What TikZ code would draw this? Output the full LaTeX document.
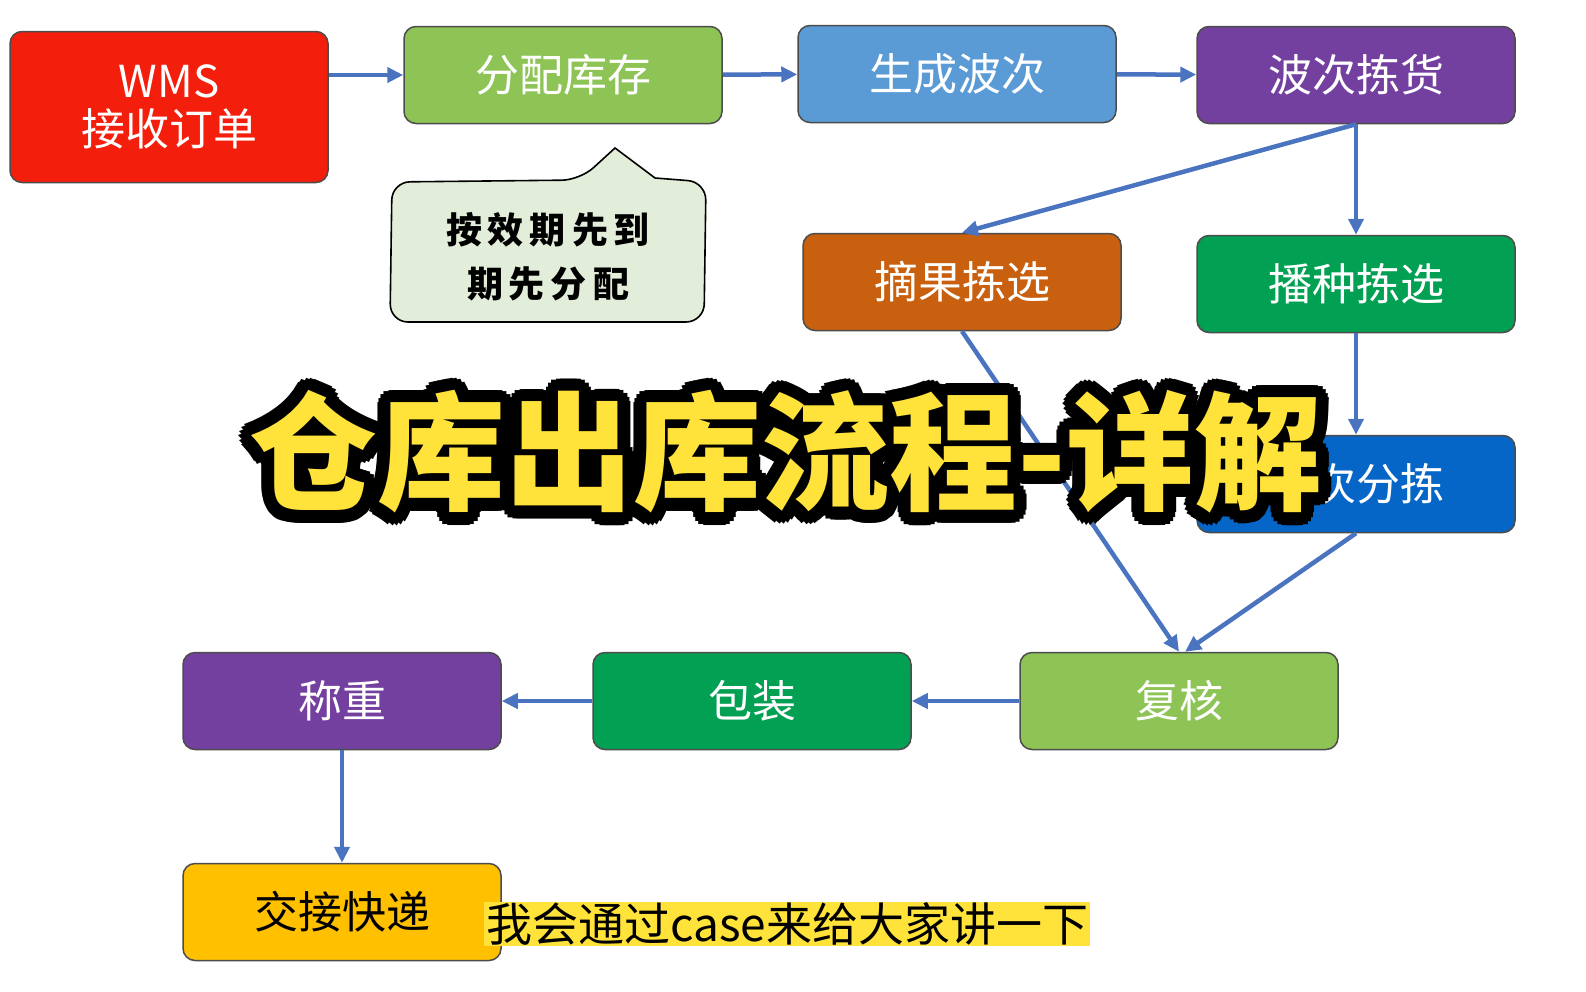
\documentclass[tikz,border=0pt]{standalone}
\usepackage{fontspec}
\setmainfont{Noto Sans CJK SC}
\usetikzlibrary{arrows.meta,calc}
\definecolor{cred}{HTML}{F41E0C}
\definecolor{cgreenl}{HTML}{8DC455}
\definecolor{cbluel}{HTML}{5B9BD5}
\definecolor{cpurple}{HTML}{7440A0}
\definecolor{corange}{HTML}{C9600F}
\definecolor{cgreen}{HTML}{02A052}
\definecolor{cblue}{HTML}{0566C8}
\definecolor{cyellow}{HTML}{FFC000}
\definecolor{carrow}{HTML}{4A74C0}
\definecolor{ctitle}{HTML}{FFE33A}
\definecolor{cnote}{HTML}{E2EDDA}
\tikzset{
  stepbox/.style={draw=black!70,line width=1.5pt,rounded corners=12pt,minimum width=318pt,
    minimum height=97pt,text=white,font=\fontsize{44}{48}\selectfont,align=center},
  flow/.style={draw=carrow,line width=4.5pt,-{Triangle[length=16pt,width=15pt]}},
  titletext/.style={font=\bfseries\fontsize{128}{130}\selectfont}
}
\begin{document}
\begin{tikzpicture}[x=1pt,y=-1pt]
\useasboundingbox[fill=white] (0,0) rectangle (1586,991);
\node[stepbox,fill=cred,minimum height=151pt] (wms) at (169,107) {WMS\\接收订单};
\node[stepbox,fill=cgreenl] (fp) at (563,75) {分配库存};
\node[stepbox,fill=cbluel] (sc) at (957,74) {生成波次};
\node[stepbox,fill=cpurple] (bc) at (1356,75) {波次拣货};
\node[stepbox,fill=corange] (zg) at (962,282) {摘果拣选};
\node[stepbox,fill=cgreen] (bz) at (1356,284) {播种拣选};
\node[stepbox,fill=cblue] (ec) at (1356,484) {二次分拣};
\node[stepbox,fill=cgreenl] (fh) at (1179,701) {复核};
\node[stepbox,fill=cgreen] (bzh) at (752,701) {包装};
\node[stepbox,fill=cpurple] (cz) at (342,701) {称重};
\node[stepbox,fill=cyellow,text=black] (jj) at (342,912) {交接快递};
% callout
\draw[fill=cnote,line width=1.6pt,rounded corners=18pt]
  (392,182) -- (580,180) [sharp corners] -- (615,148) -- (655,178) [rounded corners=18pt]
  -- (706,182) -- (704,322) -- (390,322) -- cycle;
\node[font=\bfseries\fontsize{36}{40}\selectfont,align=center] (note) at (548,257)
  {按\,效\,期\,先\,到\\[14pt]期\,先\,分\,配};
% connectors
\draw[flow] (wms.east|-fp) -- (fp.west);
\draw[flow] (fp) -- (sc);
\draw[flow] (sc) -- (bc);
\draw[flow] (bc.south) -- (zg.north);
\draw[flow] (bc) -- (bz);
\draw[flow] (bz) -- (ec);
\draw[flow] (zg.south) -- (fh.north);
\draw[flow] (ec.south) -- ([xshift=6pt]fh.north);
\draw[flow] (fh) -- (bzh);
\draw[flow] (bzh) -- (cz);
\draw[flow] (cz) -- (jj);
% title
\foreach \r in {7,13}
  \foreach \a in {0,20,...,340}
    \node[titletext,text=black] at ($(786,452)+(\a:\r)$) {仓库出库流程-详解};
\node[titletext,text=ctitle] (title) at (786,452) {仓库出库流程-详解};
\node[fill=ctitle,inner xsep=2pt,inner ysep=1pt,font=\fontsize{46}{50}\selectfont,anchor=west] (sub) at (484,924) {我会通过case来给大家讲一下};
\end{tikzpicture}
\end{document}
